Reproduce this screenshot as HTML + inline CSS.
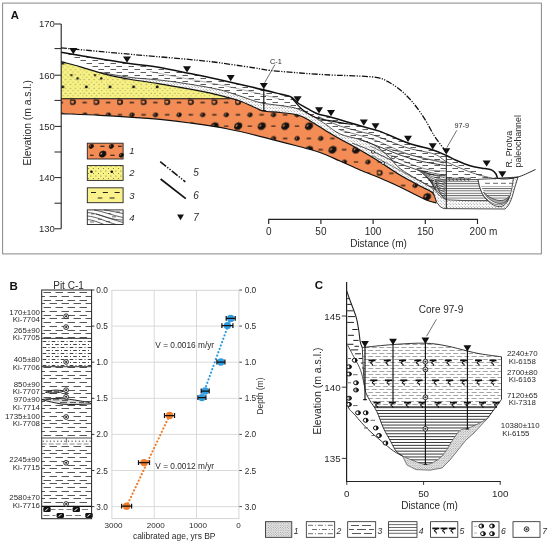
<!DOCTYPE html>
<html><head><meta charset="utf-8"><title>Figure</title>
<style>
html,body{margin:0;padding:0;background:#fff}
svg{display:block}
text{font-family:"Liberation Sans",sans-serif;fill:#2a2a2a}
.b{font-weight:bold;fill:#111}
.i{font-style:italic}
</style></head><body>
<svg width="550" height="544" viewBox="0 0 550 544">
<defs>
<pattern id="dash" width="12" height="6" patternUnits="userSpaceOnUse" patternTransform="translate(62,50)">
<rect width="12" height="6" fill="#fff"/>
<path d="M0.5,1.5H6 M6.5,4.5H12" stroke="#4a4a4a" stroke-width="0.9"/>
</pattern>
<pattern id="dashB" width="12" height="15" patternUnits="userSpaceOnUse" patternTransform="translate(43,291)">
<rect width="12" height="15" fill="#fff"/>
<path d="M0.5,1.5H8 M6.5,5.5H12 M0,5.5H2 M0.5,9.5H8 M6.5,12.5H12 M0,12.5H2" stroke="#444" stroke-width="0.9"/>
</pattern>
<pattern id="dashW" width="13" height="11.6" patternUnits="userSpaceOnUse" patternTransform="translate(346.6,295.6)">
<rect width="13" height="11.6" fill="#fff"/>
<path d="M1,3H6.6 M7.8,8.8H12.4 M0,8.8H0.4" stroke="#333" stroke-width="0.9"/>
</pattern>
<pattern id="dashC" width="7.4" height="6" patternUnits="userSpaceOnUse" patternTransform="translate(364,346)">
<rect width="7.4" height="6" fill="#fff"/>
<path d="M0.4,1.5H5.4 M4.1,4.5H7.4 M0,4.5H1.7" stroke="#909090" stroke-width="0.8"/>
</pattern>
<pattern id="stip" width="3" height="3" patternUnits="userSpaceOnUse">
<rect width="3" height="3" fill="#fafafa"/>
<circle cx="0.7" cy="0.7" r="0.42" fill="#444"/><circle cx="2.2" cy="2.2" r="0.42" fill="#555"/>
</pattern>
<pattern id="stipf" width="2.4" height="2.4" patternUnits="userSpaceOnUse">
<rect width="2.4" height="2.4" fill="#f0f0f0"/>
<circle cx="0.6" cy="0.6" r="0.45" fill="#5a5a5a"/><circle cx="1.8" cy="1.8" r="0.45" fill="#5a5a5a"/>
</pattern>
<pattern id="hl" width="6" height="2.9" patternUnits="userSpaceOnUse" patternTransform="translate(0,406.2)">
<rect width="6" height="2.9" fill="#fff"/>
<path d="M0,1.45H6" stroke="#2a2a2a" stroke-width="0.95"/>
</pattern>
<pattern id="hlA" width="6" height="2.4" patternUnits="userSpaceOnUse">
<rect width="6" height="2.4" fill="#fff"/>
<path d="M0,1.3H6" stroke="#333" stroke-width="0.8"/>
</pattern>
<pattern id="yelf" width="5" height="5" patternUnits="userSpaceOnUse">
<rect width="5" height="5" fill="#f9f284"/>
<circle cx="0.9" cy="1.1" r="0.5" fill="#554"/><circle cx="3.4" cy="3.6" r="0.5" fill="#554"/>
</pattern>
<pattern id="yel" width="23.6" height="23.6" patternUnits="userSpaceOnUse" patternTransform="translate(59.6,63.5)">
<rect width="23.6" height="23.6" fill="url(#yelf)"/>
<path d="M10.1,10.7h3.4l-1.7,2.6z" fill="#111"/>
<circle cx="18" cy="15" r="1.2" fill="#111"/>
<circle cx="3.2" cy="23.4" r="1.5" fill="#111"/><circle cx="3.2" cy="-0.2" r="1.5" fill="#111"/>
</pattern>
<pattern id="org" width="23.6" height="70.8" patternUnits="userSpaceOnUse" patternTransform="translate(61,90.7)">
<rect width="23.6" height="70.8" fill="#f38d55"/>
<path d="M-2.6,-2.9 H1.2 Q3.2,-2.6 3.1,-0.2 Q2.9,2.5 0.2,2.5 H-1.4 Q-2.7,2.3 -2.7,0.8 Z" fill="#111" transform="translate(11.8,11.6)"/><path d="M-1.7,-1.6 H0.5 Q1.5,-1.3 1.4,-0.1 Q1.2,1.2 -0.1,1.2 H-1 Q-1.7,1 -1.7,0.2Z" fill="#f38d55" transform="translate(11.8,11.6)"/>
<path d="M-3.6,1.6 L-2.6,-2 L0.6,-3.4 L3.6,-2.4 L3.8,0.8 L1.4,3.2 L-2,3.4Z" fill="#111" stroke="#111" stroke-width="0.9" stroke-linejoin="round" transform="translate(11.8,35.4)"/><path d="M-2.5,0.5 L-1.9,-1 L-0.3,-1.7 L-0.4,-0.7 L-1.5,0.7Z" fill="#f38d55" transform="translate(11.8,35.4)"/>
<path d="M-3.6,1.6 L-2.6,-2 L0.6,-3.4 L3.6,-2.4 L3.8,0.8 L1.4,3.2 L-2,3.4Z" fill="#111" stroke="#111" stroke-width="0.9" stroke-linejoin="round" transform="translate(11.8,59)"/><path d="M-2.5,0.5 L-1.9,-1 L-0.3,-1.7 L-0.4,-0.7 L-1.5,0.7Z" fill="#f38d55" transform="translate(11.8,59)"/>
<path d="M-2.4,0.9 L-1.4,-1.5 L1,-2 L2.5,-0.9 L2,1.3 L-0.2,2.1Z" fill="#111" stroke="#111" stroke-width="0.7" stroke-linejoin="round" transform="translate(0,0.5)"/><path d="M-1.5,0.3 L-0.8,-0.8 L0.3,-1 L-0.4,0.4Z" fill="#f38d55" transform="translate(0,0.5)"/>
<path d="M-2.4,0.9 L-1.4,-1.5 L1,-2 L2.5,-0.9 L2,1.3 L-0.2,2.1Z" fill="#111" stroke="#111" stroke-width="0.7" stroke-linejoin="round" transform="translate(23.6,0.5)"/><path d="M-1.5,0.3 L-0.8,-0.8 L0.3,-1 L-0.4,0.4Z" fill="#f38d55" transform="translate(23.6,0.5)"/>
<path d="M-2.4,0.9 L-1.4,-1.5 L1,-2 L2.5,-0.9 L2,1.3 L-0.2,2.1Z" fill="#111" stroke="#111" stroke-width="0.7" stroke-linejoin="round" transform="translate(0,24.1)"/><path d="M-1.5,0.3 L-0.8,-0.8 L0.3,-1 L-0.4,0.4Z" fill="#f38d55" transform="translate(0,24.1)"/>
<path d="M-2.4,0.9 L-1.4,-1.5 L1,-2 L2.5,-0.9 L2,1.3 L-0.2,2.1Z" fill="#111" stroke="#111" stroke-width="0.7" stroke-linejoin="round" transform="translate(23.6,24.1)"/><path d="M-1.5,0.3 L-0.8,-0.8 L0.3,-1 L-0.4,0.4Z" fill="#f38d55" transform="translate(23.6,24.1)"/>
<path d="M-2.4,0.9 L-1.4,-1.5 L1,-2 L2.5,-0.9 L2,1.3 L-0.2,2.1Z" fill="#111" stroke="#111" stroke-width="0.7" stroke-linejoin="round" transform="translate(0,47.7)"/><path d="M-1.5,0.3 L-0.8,-0.8 L0.3,-1 L-0.4,0.4Z" fill="#f38d55" transform="translate(0,47.7)"/>
<path d="M-2.4,0.9 L-1.4,-1.5 L1,-2 L2.5,-0.9 L2,1.3 L-0.2,2.1Z" fill="#111" stroke="#111" stroke-width="0.7" stroke-linejoin="round" transform="translate(23.6,47.7)"/><path d="M-1.5,0.3 L-0.8,-0.8 L0.3,-1 L-0.4,0.4Z" fill="#f38d55" transform="translate(23.6,47.7)"/>
<path d="M-2.4,0.9 L-1.4,-1.5 L1,-2 L2.5,-0.9 L2,1.3 L-0.2,2.1Z" fill="#111" stroke="#111" stroke-width="0.7" stroke-linejoin="round" transform="translate(0,71.3)"/><path d="M-1.5,0.3 L-0.8,-0.8 L0.3,-1 L-0.4,0.4Z" fill="#f38d55" transform="translate(0,71.3)"/>
<path d="M-2.4,0.9 L-1.4,-1.5 L1,-2 L2.5,-0.9 L2,1.3 L-0.2,2.1Z" fill="#111" stroke="#111" stroke-width="0.7" stroke-linejoin="round" transform="translate(23.6,71.3)"/><path d="M-1.5,0.3 L-0.8,-0.8 L0.3,-1 L-0.4,0.4Z" fill="#f38d55" transform="translate(23.6,71.3)"/>
<path d="M-2.2,11.8H2.2 M21.400000000000002,11.8H25.8 M-2.2,35.4H2.2 M21.400000000000002,35.4H25.8 M-2.2,59H2.2 M21.400000000000002,59H25.8 M9.6,0.5H14 M9.6,24.1H14 M9.6,47.7H14" stroke="#111" stroke-width="1.1"/>
</pattern>
</defs>
<rect width="550" height="544" fill="#fff"/>

<g id="panelA">
<rect x="2.6" y="3.1" width="538.8" height="250.8" fill="none" stroke="#888" stroke-width="1"/>
<text x="10.7" y="18.7" font-size="11.3" class="b">A</text>
<path d="M61.0,52.3 C64.2,52.8 69.2,53.7 80.0,55.5 C90.8,57.3 113.2,61.1 126.0,63.0 C138.8,64.9 146.3,65.2 157.0,67.0 C167.7,68.8 180.1,71.5 190.0,73.5 C199.9,75.5 206.0,76.7 216.4,79.0 C226.8,81.3 242.1,84.8 252.7,87.3 C263.3,89.8 273.6,92.4 280.0,94.0 C286.4,95.6 288.0,95.3 291.0,96.8 C294.0,98.3 294.9,100.8 298.0,103.0 C301.1,105.2 306.3,108.0 309.6,109.8 C312.9,111.6 314.1,112.7 318.0,114.0 C321.9,115.3 325.1,115.6 332.7,117.7 C340.3,119.8 355.7,124.5 363.6,126.8 C371.5,129.1 372.6,128.7 380.0,131.4 C387.4,134.1 399.2,139.9 408.0,143.0 C416.8,146.1 426.6,147.9 433.0,150.0 C439.4,152.1 442.7,153.8 446.5,155.5 C450.3,157.2 451.9,158.6 456.0,160.3 C460.1,162.1 468.5,165.1 471.0,166.0 L485,175 L445.5,180 L434,189 L434.0,189.0 C431.7,187.7 425.7,184.4 420.0,181.0 C414.3,177.6 405.3,172.7 400.0,168.5 C394.7,164.3 392.2,159.8 388.0,156.0 C383.8,152.2 379.7,148.2 375.0,145.5 C370.3,142.8 365.8,141.4 360.0,139.5 C354.2,137.6 345.7,136.5 340.0,134.0 C334.3,131.5 329.9,127.1 326.0,124.5 C322.1,121.9 319.7,120.3 316.4,118.3 C313.1,116.3 309.6,114.2 306.0,112.5 C302.4,110.8 299.3,109.2 295.0,108.0 C290.7,106.8 285.8,106.4 280.0,105.5 C274.2,104.6 266.7,104.2 260.0,102.6 C253.3,101.0 247.3,98.3 240.0,96.0 C232.7,93.7 226.4,91.2 216.4,89.0 C206.4,86.8 189.9,84.2 180.0,82.7 C170.1,81.2 165.2,80.7 157.0,79.8 C148.8,78.9 140.5,78.7 131.0,77.5 C121.5,76.3 105.2,73.2 100.0,72.4Z" fill="url(#dash)"/>
<path d="M100.0,72.4 C105.2,73.2 121.5,76.3 131.0,77.5 C140.5,78.7 148.8,78.9 157.0,79.8 C165.2,80.7 170.1,81.2 180.0,82.7 C189.9,84.2 206.4,86.8 216.4,89.0 C226.4,91.2 232.7,93.7 240.0,96.0 C247.3,98.3 253.3,101.0 260.0,102.6 C266.7,104.2 274.2,104.6 280.0,105.5 C285.8,106.4 290.7,106.8 295.0,108.0 C299.3,109.2 302.4,110.8 306.0,112.5 C309.6,114.2 313.1,116.3 316.4,118.3 C319.7,120.3 322.1,121.9 326.0,124.5 C329.9,127.1 334.3,131.5 340.0,134.0 C345.7,136.5 354.2,137.6 360.0,139.5 C365.8,141.4 370.3,142.8 375.0,145.5 C379.7,148.2 383.8,152.2 388.0,156.0 C392.2,159.8 394.7,164.3 400.0,168.5 C405.3,172.7 414.3,177.6 420.0,181.0 C425.7,184.4 431.7,187.7 434.0,189.0 L436.5,201.8 C435.9,200.3 435.4,195.4 432.6,192.8 C429.9,190.2 425.4,189.0 420.0,186.0 C414.6,183.0 406.7,179.0 400.0,175.0 C393.3,171.0 386.7,166.2 380.0,162.0 C373.3,157.8 366.7,153.8 360.0,150.0 C353.3,146.2 345.8,142.2 340.0,139.0 C334.2,135.8 330.3,133.4 325.5,130.5 C320.7,127.6 315.6,124.0 311.0,121.4 C306.4,118.8 303.2,116.5 298.0,115.0 C292.8,113.5 285.7,113.2 280.0,112.5 C274.3,111.8 267.6,111.8 263.6,111.0 C259.6,110.2 259.9,109.7 256.0,108.0 C252.1,106.3 244.8,102.8 240.0,101.0 C235.2,99.2 232.5,98.7 227.0,97.3 C221.5,95.9 214.8,94.1 207.0,92.4 C199.2,90.7 188.3,88.8 180.0,87.3 C171.7,85.8 165.2,84.6 157.0,83.3 C148.8,82.0 139.5,81.0 131.0,79.5 C122.5,78.0 114.4,76.5 106.0,74.4 C97.6,72.3 87.9,68.9 80.4,66.8 C72.9,64.7 64.2,62.6 61.0,61.7Z" fill="url(#stip)"/>
<path d="M61.0,61.7 C64.2,62.6 72.9,64.7 80.4,66.8 C87.9,68.9 97.6,72.3 106.0,74.4 C114.4,76.5 122.5,78.0 131.0,79.5 C139.5,81.0 148.8,82.0 157.0,83.3 C165.2,84.6 171.7,85.8 180.0,87.3 C188.3,88.8 199.2,90.7 207.0,92.4 C214.8,94.1 223.7,96.5 227.0,97.3 L230,98.6 L61,98.6 Z" fill="url(#yel)"/>
<path d="M61,98.6 L230,98.6 L240.0,101.0 C242.7,102.2 252.1,106.3 256.0,108.0 C259.9,109.7 259.6,110.2 263.6,111.0 C267.6,111.8 274.3,111.8 280.0,112.5 C285.7,113.2 292.8,113.5 298.0,115.0 C303.2,116.5 306.4,118.8 311.0,121.4 C315.6,124.0 320.7,127.6 325.5,130.5 C330.3,133.4 334.2,135.8 340.0,139.0 C345.8,142.2 353.3,146.2 360.0,150.0 C366.7,153.8 373.3,157.8 380.0,162.0 C386.7,166.2 393.3,171.0 400.0,175.0 C406.7,179.0 414.6,183.0 420.0,186.0 C425.4,189.0 429.9,190.2 432.6,192.8 C435.4,195.4 435.9,200.3 436.5,201.8 L436.5,203.0 C435.0,202.6 430.9,201.8 427.5,200.5 C424.1,199.2 420.6,197.2 416.0,195.0 C411.4,192.8 406.0,189.8 400.0,187.0 C394.0,184.2 386.7,180.8 380.0,178.0 C373.3,175.2 366.7,172.8 360.0,170.0 C353.3,167.2 346.7,163.9 340.0,161.0 C333.3,158.1 325.9,154.7 320.0,152.5 C314.1,150.3 313.5,150.4 304.5,148.0 C295.5,145.6 278.8,141.0 266.0,137.8 C253.2,134.6 240.7,131.5 228.0,129.0 C215.3,126.5 201.3,124.6 190.0,123.0 C178.7,121.4 168.3,120.2 160.0,119.3 C151.7,118.4 150.0,118.5 140.0,117.8 C130.0,117.1 113.2,116.0 100.0,115.3 C86.8,114.6 67.5,113.9 61.0,113.6Z" fill="url(#org)"/>
<path d="M61.0,113.6 C67.5,113.9 86.8,114.6 100.0,115.3 C113.2,116.0 130.0,117.1 140.0,117.8 C150.0,118.5 151.7,118.4 160.0,119.3 C168.3,120.2 178.7,121.4 190.0,123.0 C201.3,124.6 215.3,126.5 228.0,129.0 C240.7,131.5 253.2,134.6 266.0,137.8 C278.8,141.0 295.5,145.6 304.5,148.0 C313.5,150.4 314.1,150.3 320.0,152.5 C325.9,154.7 333.3,158.1 340.0,161.0 C346.7,163.9 353.3,167.2 360.0,170.0 C366.7,172.8 373.3,175.2 380.0,178.0 C386.7,180.8 394.0,184.2 400.0,187.0 C406.0,189.8 411.4,192.8 416.0,195.0 C420.6,197.2 424.1,199.2 427.5,200.5 C430.9,201.8 435.0,202.6 436.5,203.0" fill="none" stroke="#111" stroke-width="1.2"/>
<path d="M61,98.7 H230" fill="none" stroke="#111" stroke-width="1.1"/>
<path d="M61.0,61.7 C64.2,62.6 72.9,64.7 80.4,66.8 C87.9,68.9 97.6,72.3 106.0,74.4 C114.4,76.5 122.5,78.0 131.0,79.5 C139.5,81.0 148.8,82.0 157.0,83.3 C165.2,84.6 171.7,85.8 180.0,87.3 C188.3,88.8 199.2,90.7 207.0,92.4 C214.8,94.1 221.5,95.9 227.0,97.3 C232.5,98.7 235.2,99.2 240.0,101.0 C244.8,102.8 252.1,106.3 256.0,108.0 C259.9,109.7 259.6,110.2 263.6,111.0 C267.6,111.8 274.3,111.8 280.0,112.5 C285.7,113.2 292.8,113.5 298.0,115.0 C303.2,116.5 306.4,118.8 311.0,121.4 C315.6,124.0 320.7,127.6 325.5,130.5 C330.3,133.4 334.2,135.8 340.0,139.0 C345.8,142.2 353.3,146.2 360.0,150.0 C366.7,153.8 373.3,157.8 380.0,162.0 C386.7,166.2 393.3,171.0 400.0,175.0 C406.7,179.0 414.6,183.0 420.0,186.0 C425.4,189.0 429.9,190.2 432.6,192.8 C435.4,195.4 435.9,200.3 436.5,201.8" fill="none" stroke="#111" stroke-width="1.2"/>
<path d="M100.0,72.4 C105.2,73.2 121.5,76.3 131.0,77.5 C140.5,78.7 148.8,78.9 157.0,79.8 C165.2,80.7 170.1,81.2 180.0,82.7 C189.9,84.2 206.4,86.8 216.4,89.0 C226.4,91.2 232.7,93.7 240.0,96.0 C247.3,98.3 253.3,101.0 260.0,102.6 C266.7,104.2 274.2,104.6 280.0,105.5 C285.8,106.4 290.7,106.8 295.0,108.0 C299.3,109.2 302.4,110.8 306.0,112.5 C309.6,114.2 313.1,116.3 316.4,118.3 C319.7,120.3 322.1,121.9 326.0,124.5 C329.9,127.1 334.3,131.5 340.0,134.0 C345.7,136.5 354.2,137.6 360.0,139.5 C365.8,141.4 370.3,142.8 375.0,145.5 C379.7,148.2 383.8,152.2 388.0,156.0 C392.2,159.8 394.7,164.3 400.0,168.5 C405.3,172.7 414.3,177.6 420.0,181.0 C425.7,184.4 431.7,187.7 434.0,189.0" fill="none" stroke="#222" stroke-width="0.8"/>
<path d="M150.0,71.5 C155.0,72.5 169.0,75.4 180.0,77.5 C191.0,79.6 204.3,81.7 216.0,84.0 C227.7,86.3 239.3,89.0 250.0,91.5 C260.7,94.0 275.0,97.8 280.0,99.0" fill="none" stroke="#666" stroke-width="0.5"/>
<path d="M433,191.5 L436.8,202.5 L440.5,207 L444,208.6 L505,209 C509,206 512,199 514,190 L518,177 L497.4,178.4 L478,179 L445,180 L436,186Z" fill="url(#stip)" stroke="#222" stroke-width="0.8"/>
<path d="M445.5,160 L465,167 L479,172.5 L496,177.5 L497.4,178.6 L478,179.6 L445.5,180Z" fill="url(#dash)"/>
<path d="M435.5,180 L478,179.5 C479,186 481.5,193 485,198 L488,200.8 L465,200.6 L447,199.8 C442,198 438,191 435.5,180Z" fill="url(#hlA)" stroke="#222" stroke-width="0.7"/>
<path d="M478,179.3 C479.5,188 482,195 487,200 C491,204 495,206.6 499.5,206.6 C504,206.6 507.5,203 509.5,197 C511.5,191 512.6,184 513.4,177.6 L497.4,178.5Z" fill="#fff" stroke="#222" stroke-width="0.8"/>
<path d="M481,186 H511.6 C511,190 510,194 508.4,197.6 C506,202.6 501,203.6 496,201.8 C490.5,199.8 484.5,195 481,186Z" fill="url(#hlA)"/>
<path d="M483.5,192 C486,197 490.5,200.8 496,202.8 C501.5,204.8 506.5,203 509.4,196 C506.5,200 501.5,201.4 496,199.8 C490.5,198.2 486.5,195.6 483.5,192Z" fill="#aaa" stroke="#222" stroke-width="0.6"/>
<path d="M485.5,197.5 C489.5,202.6 495.5,205.4 500.5,204.8 C504,204.4 507,202 508.8,198" fill="none" stroke="#222" stroke-width="0.6"/>
<path d="M485,183.3h5 m3,0h5 m3,0h5 m3,0h3" stroke="#444" stroke-width="0.8"/>
<path d="M417.0,169.5 Q432.0,173.0 445.5,175.6" stroke="#222" stroke-width="0.65" fill="none"/>
<path d="M418.5,170.7 Q432.3,175.2 445.5,178.0" stroke="#222" stroke-width="0.65" fill="none"/>
<path d="M420.0,171.8 Q432.6,177.4 445.5,180.4" stroke="#222" stroke-width="0.65" fill="none"/>
<path d="M421.5,172.9 Q432.9,179.6 445.5,182.8" stroke="#222" stroke-width="0.65" fill="none"/>
<path d="M423.0,174.1 Q433.2,181.8 445.5,185.2" stroke="#222" stroke-width="0.65" fill="none"/>
<path d="M424.5,175.2 Q433.5,184.0 445.5,187.6" stroke="#222" stroke-width="0.65" fill="none"/>
<path d="M426.0,176.4 Q433.8,186.2 445.5,190.0" stroke="#222" stroke-width="0.65" fill="none"/>
<path d="M427.5,177.6 Q434.1,188.4 445.5,192.4" stroke="#222" stroke-width="0.65" fill="none"/>
<path d="M429.0,178.7 Q434.4,190.6 445.5,194.8" stroke="#222" stroke-width="0.65" fill="none"/>
<path d="M430.5,179.8 Q434.7,192.8 445.5,197.2" stroke="#222" stroke-width="0.65" fill="none"/>
<path d="M432.0,181.0 Q435.0,195.0 445.5,199.6" stroke="#222" stroke-width="0.65" fill="none"/>
<path d="M318.0,116.5 C321.7,118.1 333.0,123.5 340.0,126.0 C347.0,128.5 354.0,129.8 360.0,131.5 C366.0,133.2 368.0,133.2 376.0,136.0 C384.0,138.8 398.3,145.0 408.0,148.0 C417.7,151.0 427.5,151.7 434.0,154.0 C440.5,156.3 441.8,159.3 447.0,162.0 C452.2,164.7 459.7,167.8 465.0,170.0 C470.3,172.2 473.8,173.5 479.0,175.0 C484.2,176.5 493.2,178.3 496.0,179.0" fill="none" stroke="#222" stroke-width="0.7"/>
<path d="M360.0,139.5 C363.3,140.8 373.3,144.4 380.0,147.0 C386.7,149.6 393.3,152.7 400.0,155.0 C406.7,157.3 412.4,159.2 420.0,161.0 C427.6,162.8 441.2,164.8 445.5,165.5" fill="none" stroke="#222" stroke-width="0.9"/>
<path d="M352.0,143.0 C355.3,144.3 365.3,148.1 372.0,151.0 C378.7,153.9 385.3,157.7 392.0,160.5 C398.7,163.3 405.7,165.8 412.0,168.0 C418.3,170.2 424.4,172.7 430.0,174.0 C435.6,175.3 442.9,175.7 445.5,176.0" fill="none" stroke="#222" stroke-width="0.8"/>
<path d="M372.0,155.5 C375.3,157.2 385.7,162.6 392.0,166.0 C398.3,169.4 404.3,173.0 410.0,176.0 C415.7,179.0 421.7,181.8 426.0,184.0 C430.3,186.2 434.3,188.2 436.0,189.0" fill="none" stroke="#333" stroke-width="0.6"/>
<path d="M340.0,130.0 C343.3,130.9 353.3,133.5 360.0,135.5 C366.7,137.5 373.3,139.4 380.0,142.0 C386.7,144.6 393.3,148.4 400.0,151.0 C406.7,153.6 412.4,155.7 420.0,157.5 C427.6,159.3 441.2,161.2 445.5,162.0" fill="none" stroke="#333" stroke-width="0.6"/>
<path d="M370.0,146.0 C373.7,147.7 385.0,152.9 392.0,156.0 C399.0,159.1 405.7,162.2 412.0,164.5 C418.3,166.8 424.4,168.9 430.0,170.0 C435.6,171.1 442.9,170.8 445.5,171.0" fill="none" stroke="#333" stroke-width="0.6"/>
<path d="M385.0,147.7 C389.9,149.1 404.8,153.4 414.6,156.0 C424.4,158.6 439.1,161.8 444.0,163.0" fill="none" stroke="#333" stroke-width="0.6"/>
<ellipse cx="373" cy="152" rx="1.8" ry="1.3" fill="#fff" stroke="#111" stroke-width="0.8"/>
<ellipse cx="393" cy="157.5" rx="1.8" ry="1.3" fill="#fff" stroke="#111" stroke-width="0.8"/>
<ellipse cx="383" cy="163" rx="1.8" ry="1.3" fill="#fff" stroke="#111" stroke-width="0.8"/>
<path d="M291.0,97.3 C292.0,98.4 294.9,101.8 297.0,104.0 C299.1,106.2 300.4,108.2 303.6,110.5 C306.8,112.8 311.2,115.9 316.4,117.7 C321.5,119.5 328.4,120.4 334.5,121.6 C340.6,122.8 349.7,124.1 352.7,124.6" fill="none" stroke="#111" stroke-width="1.2"/>
<path d="M446,178.2h25" stroke="#222" stroke-width="0.7"/>
<path d="M449.5,178.4 q-1.2,0.8 -0.2,1.4 q0.6,0.4 0.2,1" stroke="#111" stroke-width="0.8" fill="none"/>
<path d="M453.3,178.4 q-1.2,0.8 -0.2,1.4 q0.6,0.4 0.2,1" stroke="#111" stroke-width="0.8" fill="none"/>
<path d="M457.1,178.4 q-1.2,0.8 -0.2,1.4 q0.6,0.4 0.2,1" stroke="#111" stroke-width="0.8" fill="none"/>
<path d="M460.9,178.4 q-1.2,0.8 -0.2,1.4 q0.6,0.4 0.2,1" stroke="#111" stroke-width="0.8" fill="none"/>
<path d="M464.7,178.4 q-1.2,0.8 -0.2,1.4 q0.6,0.4 0.2,1" stroke="#111" stroke-width="0.8" fill="none"/>
<path d="M468.5,178.4 q-1.2,0.8 -0.2,1.4 q0.6,0.4 0.2,1" stroke="#111" stroke-width="0.8" fill="none"/>
<path d="M61.0,52.3 C64.2,52.8 69.2,53.7 80.0,55.5 C90.8,57.3 113.2,61.1 126.0,63.0 C138.8,64.9 146.3,65.2 157.0,67.0 C167.7,68.8 180.1,71.5 190.0,73.5 C199.9,75.5 206.0,76.7 216.4,79.0 C226.8,81.3 242.1,84.8 252.7,87.3 C263.3,89.8 273.6,92.4 280.0,94.0 C286.4,95.6 288.0,95.3 291.0,96.8 C294.0,98.3 294.9,100.8 298.0,103.0 C301.1,105.2 306.3,108.0 309.6,109.8 C312.9,111.6 314.1,112.7 318.0,114.0 C321.9,115.3 325.1,115.6 332.7,117.7 C340.3,119.8 355.7,124.5 363.6,126.8 C371.5,129.1 372.6,128.7 380.0,131.4 C387.4,134.1 399.2,139.9 408.0,143.0 C416.8,146.1 426.6,147.9 433.0,150.0 C439.4,152.1 442.7,153.8 446.5,155.5 C450.3,157.2 451.9,158.6 456.0,160.3 C460.1,162.1 466.2,164.6 471.0,166.0 C475.8,167.4 481.5,167.9 485.0,168.6 C488.5,169.3 490.2,169.3 492.0,170.2 C493.8,171.1 495.1,172.6 496.0,174.0 C496.9,175.4 497.2,177.7 497.5,178.4" fill="none" stroke="#111" stroke-width="1.5"/>
<path d="M497.6,178.4 C503,179.6 512,179 518,177 C523,175.5 527,173.5 535.5,169.5" fill="none" stroke="#111" stroke-width="0.9"/>
<path d="M61.0,47.9 C70.0,48.7 92.2,50.8 115.0,52.9 C137.8,55.0 178.8,58.4 198.0,60.3 C217.2,62.2 220.5,63.0 230.0,64.3 C239.5,65.6 248.3,67.0 255.0,68.0 C261.7,69.0 262.5,69.6 270.0,70.4 C277.5,71.2 290.0,72.2 300.0,73.0 C310.0,73.8 321.1,74.5 330.0,75.0 C338.9,75.5 345.7,75.4 353.6,75.8 C361.5,76.2 371.4,76.5 377.3,77.6 C383.2,78.7 385.1,80.0 389.0,82.2 C392.9,84.4 397.1,87.2 401.0,90.5 C404.9,93.8 408.8,97.6 412.7,102.3 C416.6,107.0 421.1,113.3 424.6,118.8 C428.2,124.3 430.9,130.5 434.0,135.4 C437.1,140.3 441.5,145.6 443.5,148.4 C445.5,151.2 445.6,151.8 446.0,152.5" fill="none" stroke="#111" stroke-width="1.3" stroke-dasharray="6 1.4 1.2 1.4 1.2 1.4"/>
<path d="M69.3,48.1 H77.3 L73.3,54.3Z" fill="#111"/>
<path d="M123.0,56.5 H131.0 L127.0,62.7Z" fill="#111"/>
<path d="M183.0,66.3 H191.0 L187.0,72.5Z" fill="#111"/>
<path d="M226.7,75.1 H234.7 L230.7,81.3Z" fill="#111"/>
<path d="M259.8,82.9 H267.8 L263.8,89.1Z" fill="#111"/>
<path d="M293.6,96.3 H301.6 L297.6,102.5Z" fill="#111"/>
<path d="M315.0,107.3 H323.0 L319.0,113.5Z" fill="#111"/>
<path d="M327.0,110.1 H335.0 L331.0,116.3Z" fill="#111"/>
<path d="M359.8,119.6 H367.8 L363.8,125.8Z" fill="#111"/>
<path d="M371.5,123.3 H379.5 L375.5,129.5Z" fill="#111"/>
<path d="M404.0,135.8 H412.0 L408.0,142.0Z" fill="#111"/>
<path d="M428.7,143.3 H436.7 L432.7,149.5Z" fill="#111"/>
<path d="M442.3,148.3 H450.3 L446.3,154.5Z" fill="#111"/>
<path d="M482.6,160.4 H490.6 L486.6,166.6Z" fill="#111"/>
<path d="M498.3,171.2 H506.3 L502.3,177.4Z" fill="#111"/>
<path d="M263.8,88.3 V110.6 M261.8,110.6 h4" stroke="#111" stroke-width="1.15" fill="none"/>
<path d="M446.3,154.5 V208.5" stroke="#111" stroke-width="1" fill="none"/>
<path d="M274.9,64.6 L264.6,82.8 M456.8,130.3 L446.8,147.6" stroke="#333" stroke-width="0.7" fill="none"/>
<text x="276" y="63.8" font-size="7.4" text-anchor="middle" fill="#444">C-1</text>
<text x="461.7" y="128.4" font-size="7.3" text-anchor="middle" fill="#444">97-9</text>
<text transform="translate(512.3,167.5) rotate(-90)" font-size="8.8">R. Protva</text>
<text transform="translate(520.8,167.5) rotate(-90)" font-size="8.8">paleochannel</text>
<path d="M61.2,24 V228.8" stroke="#222" stroke-width="1.1" fill="none"/>
<path d="M54.5,24H61.2" stroke="#222" stroke-width="1"/>
<text x="54.8" y="27.4" font-size="9.5" text-anchor="end">170</text>
<path d="M54.5,75.2H61.2" stroke="#222" stroke-width="1"/>
<text x="54.8" y="78.60000000000001" font-size="9.5" text-anchor="end">160</text>
<path d="M54.5,126.4H61.2" stroke="#222" stroke-width="1"/>
<text x="54.8" y="129.8" font-size="9.5" text-anchor="end">150</text>
<path d="M54.5,177.6H61.2" stroke="#222" stroke-width="1"/>
<text x="54.8" y="181.0" font-size="9.5" text-anchor="end">140</text>
<path d="M54.5,228.8H61.2" stroke="#222" stroke-width="1"/>
<text x="54.8" y="232.20000000000002" font-size="9.5" text-anchor="end">130</text>
<path d="M54.5,48.6H61.2" stroke="#222" stroke-width="1"/>
<path d="M54.5,100.4H61.2" stroke="#222" stroke-width="1"/>
<path d="M54.5,152H61.2" stroke="#222" stroke-width="1"/>
<path d="M54.5,203.2H61.2" stroke="#222" stroke-width="1"/>
<text transform="translate(31,122.8) rotate(-90)" font-size="10.3" text-anchor="middle">Elevation (m a.s.l.)</text>
<path d="M268.7,224 V219.4 H477.5 V224 M320.9,219.4V224 M373.1,219.4V224 M425.3,219.4V224" stroke="#222" stroke-width="1.15" fill="none"/>
<text x="268.7" y="235" font-size="10" text-anchor="middle">0</text>
<text x="320.9" y="235" font-size="10" text-anchor="middle">50</text>
<text x="373.1" y="235" font-size="10" text-anchor="middle">100</text>
<text x="425.3" y="235" font-size="10" text-anchor="middle">150</text>
<text x="469.6" y="235" font-size="10">200 m</text>
<text x="378.5" y="247.3" font-size="10" text-anchor="middle">Distance (m)</text>
<rect x="87.3" y="143.2" width="35.8" height="15.8" fill="#f38d55" stroke="#222" stroke-width="0.9"/>
<g transform="translate(91.2,146.3) scale(0.62)"><path d="M-3.6,1.6 L-2.6,-2 L0.6,-3.4 L3.6,-2.4 L3.8,0.8 L1.4,3.2 L-2,3.4Z" fill="#111" stroke="#111" stroke-width="0.9" stroke-linejoin="round"/><path d="M-2.5,0.5 L-1.9,-1 L-0.3,-1.7 L-0.4,-0.7 L-1.5,0.7Z" fill="#f38d55"/></g>
<g transform="translate(111.3,146.3) scale(0.62)"><path d="M-3.6,1.6 L-2.6,-2 L0.6,-3.4 L3.6,-2.4 L3.8,0.8 L1.4,3.2 L-2,3.4Z" fill="#111" stroke="#111" stroke-width="0.9" stroke-linejoin="round"/><path d="M-2.5,0.5 L-1.9,-1 L-0.3,-1.7 L-0.4,-0.7 L-1.5,0.7Z" fill="#f38d55"/></g>
<g transform="translate(102.5,154) scale(0.9)"><path d="M-3.6,1.6 L-2.6,-2 L0.6,-3.4 L3.6,-2.4 L3.8,0.8 L1.4,3.2 L-2,3.4Z" fill="#111" stroke="#111" stroke-width="0.9" stroke-linejoin="round"/><path d="M-2.5,0.5 L-1.9,-1 L-0.3,-1.7 L-0.4,-0.7 L-1.5,0.7Z" fill="#f38d55"/></g>
<g transform="translate(121.2,155.2) scale(0.6)"><path d="M-3.6,1.6 L-2.6,-2 L0.6,-3.4 L3.6,-2.4 L3.8,0.8 L1.4,3.2 L-2,3.4Z" fill="#111" stroke="#111" stroke-width="0.9" stroke-linejoin="round"/><path d="M-2.5,0.5 L-1.9,-1 L-0.3,-1.7 L-0.4,-0.7 L-1.5,0.7Z" fill="#f38d55"/></g>
<path d="M100.3,146.3h4.2 M118,146.3h3.8 M90,155.2h3.6 M110.4,155.2h4.2" stroke="#111" stroke-width="1.1"/>
<rect x="87.3" y="165.6" width="35.8" height="14.8" fill="url(#yelf)" stroke="#222" stroke-width="0.9"/>
<circle cx="91.5" cy="171.7" r="1.3" fill="#111"/><circle cx="111.8" cy="171.7" r="1.3" fill="#111"/>
<rect x="87.3" y="187.8" width="35.8" height="14.9" fill="#f9f28c" stroke="#222" stroke-width="0.9"/>
<path d="M91,192.5h5 M102.8,192.5h5.1 M114.6,192.5h5.1 M97.7,198h4.6 M109.6,198h5" stroke="#222" stroke-width="1"/>
<rect x="87.3" y="209.9" width="35.8" height="14.6" fill="#fbfbfb" stroke="#222" stroke-width="0.9"/>
<path d="M87.3,212.5 C96,213 104,217 123,222.5 M87.3,216 C96,216.5 107,222 116,224.5 M94,209.9 C103,211.5 113,215.5 123,217.5 M87.3,219.5 C93,220 99,222.5 104,224.5 M104,209.9 C111,211 118,212.5 123,213.5 M96,214 C104,216 112,220 123,220" fill="none" stroke="#222" stroke-width="0.7"/>
<path d="M90,222h4 M98,219.3h4 M106,221.6h4 M112,216.8h4 M116,212h4 M91,213.9h3 M108,213.6h3" stroke="#333" stroke-width="0.7"/>
<text x="129.3" y="153.6" font-size="9.5" class="i">1</text>
<text x="129.3" y="176" font-size="9.5" class="i">2</text>
<text x="129.3" y="198.8" font-size="9.5" class="i">3</text>
<text x="129.3" y="221.3" font-size="9.5" class="i">4</text>
<path d="M160.2,161.6 L185.3,181.8" stroke="#111" stroke-width="1.5" stroke-dasharray="7.5 1.5 1.4 1.5 1.4 1.5"/>
<path d="M160.6,179 L185.8,198.6" stroke="#111" stroke-width="1.7"/>
<path d="M177.1,214.6 H183.9 L180.5,220.2Z" fill="#111"/>
<text x="193.3" y="176" font-size="10" class="i">5</text>
<text x="193.3" y="198.8" font-size="10" class="i">6</text>
<text x="193.3" y="221.2" font-size="10" class="i">7</text>
</g>
<g id="panelB">
<text x="9.5" y="289.5" font-size="11.5" class="b">B</text>
<text x="68.5" y="289" font-size="10" text-anchor="middle">Pit C-1</text>
<rect x="41.7" y="290" width="49.89999999999999" height="228.70000000000005" fill="url(#dashB)"/>
<rect x="41.7" y="338.4" width="49.89999999999999" height="28.3" fill="#fff"/>
<path d="M42.7,341.5H91.1" stroke="#2a2a2a" stroke-width="0.9" stroke-dasharray="3.6 2.2 1 2.2"/>
<path d="M46.2,344.5H91.1" stroke="#2a2a2a" stroke-width="0.9" stroke-dasharray="3.6 2.2 1 2.2"/>
<path d="M42.7,347.5H91.1" stroke="#2a2a2a" stroke-width="0.9" stroke-dasharray="3.6 2.2 1 2.2"/>
<path d="M46.2,350.5H91.1" stroke="#2a2a2a" stroke-width="0.9" stroke-dasharray="3.6 2.2 1 2.2"/>
<path d="M42.7,353.5H91.1" stroke="#2a2a2a" stroke-width="0.9" stroke-dasharray="3.6 2.2 1 2.2"/>
<path d="M46.2,356.5H91.1" stroke="#2a2a2a" stroke-width="0.9" stroke-dasharray="3.6 2.2 1 2.2"/>
<path d="M42.7,359.5H91.1" stroke="#2a2a2a" stroke-width="0.9" stroke-dasharray="3.6 2.2 1 2.2"/>
<path d="M46.2,362.5H91.1" stroke="#2a2a2a" stroke-width="0.9" stroke-dasharray="3.6 2.2 1 2.2"/>
<path d="M42.7,365.5H91.1" stroke="#2a2a2a" stroke-width="0.9" stroke-dasharray="3.6 2.2 1 2.2"/>
<path d="M41.7,338.4H91.6 M41.7,366.7H91.6" stroke="#222" stroke-width="0.9"/>
<rect x="41.7" y="438" width="49.89999999999999" height="6" fill="#fff"/>
<path d="M41.7,438H91.6" stroke="#222" stroke-width="0.8"/>
<path d="M42.7,441.2H91.6" stroke="#333" stroke-width="1" stroke-dasharray="1.2 2.4"/><path d="M66.4,438v4.5" stroke="#333" stroke-width="0.7"/>
<path d="M41.7,444H91.6" stroke="#555" stroke-width="0.7" stroke-dasharray="5 2"/>
<path d="M45.5,392.3 C50,389.6 60,389.6 63.5,391.2 C60,393 50,393.4 45.5,392.3Z" fill="#ddd" stroke="#111" stroke-width="0.9"/><path d="M48,391.6h4 m2,-0.3h5" stroke="#111" stroke-width="0.7"/>
<path d="M42,399.6 C52,397.6 68,398.6 78,400.6 C84,401.6 89,402 91.4,403.8 C82,404.6 70,404.8 62,404.2 C55,402.8 48,401.6 42,399.6Z" fill="#ddd" stroke="#111" stroke-width="0.9"/><path d="M46,399.6h5 m2,0.2h6 m3,0.8h6 m-8,2h7 m3,0h6 m3,0h5" stroke="#111" stroke-width="0.7"/>
<rect x="41.7" y="506.3" width="49.89999999999999" height="12.4" fill="#fff"/>
<path d="M41.7,506.3H91.6" stroke="#111" stroke-width="1.2"/>
<rect x="43.3" y="507.1" width="7.4" height="5" rx="1.3" fill="#111"/><path d="M44.6,510.7 L47.8,508.2 L48.7,508.2 L46.0,510.7Z" fill="#fff"/>
<rect x="72.6" y="507.1" width="7.4" height="5" rx="1.3" fill="#111"/><path d="M73.9,510.7 L77.1,508.2 L78.0,508.2 L75.3,510.7Z" fill="#fff"/>
<rect x="56.6" y="512.9" width="7.4" height="5" rx="1.3" fill="#111"/><path d="M57.9,516.5 L61.1,514.0 L62.0,514.0 L59.3,516.5Z" fill="#fff"/>
<rect x="85.3" y="512.9" width="7.4" height="5" rx="1.3" fill="#111"/><path d="M86.6,516.5 L89.8,514.0 L90.7,514.0 L88.0,516.5Z" fill="#fff"/>
<path d="M50.5,509.5h5 m3,0h5 m3,0h5 M82,509.5h6 M43.5,515.5h6 m3,0h3 M66,515.5h6 m3,0h6" stroke="#555" stroke-width="0.8"/>
<rect x="41.7" y="290" width="49.89999999999999" height="228.70000000000005" fill="none" stroke="#222" stroke-width="1"/>
<circle cx="66.1" cy="316.3" r="2.4" fill="#e8e8e8" stroke="#222" stroke-width="0.9"/><circle cx="66.1" cy="316.3" r="1" fill="#222"/>
<circle cx="66.1" cy="327.1" r="2.4" fill="#e8e8e8" stroke="#222" stroke-width="0.9"/><circle cx="66.1" cy="327.1" r="1" fill="#222"/>
<circle cx="66.1" cy="361.9" r="2.4" fill="#e8e8e8" stroke="#222" stroke-width="0.9"/><circle cx="66.1" cy="361.9" r="1" fill="#222"/>
<circle cx="66.1" cy="390.2" r="2.4" fill="#e8e8e8" stroke="#222" stroke-width="0.9"/><circle cx="66.1" cy="390.2" r="1" fill="#222"/>
<circle cx="66.1" cy="396.8" r="2.4" fill="#e8e8e8" stroke="#222" stroke-width="0.9"/><circle cx="66.1" cy="396.8" r="1" fill="#222"/>
<circle cx="66.1" cy="417" r="2.4" fill="#e8e8e8" stroke="#222" stroke-width="0.9"/><circle cx="66.1" cy="417" r="1" fill="#222"/>
<circle cx="66.1" cy="462.8" r="2.4" fill="#e8e8e8" stroke="#222" stroke-width="0.9"/><circle cx="66.1" cy="462.8" r="1" fill="#222"/>
<circle cx="66.1" cy="504" r="2.4" fill="#e8e8e8" stroke="#222" stroke-width="0.9"/><circle cx="66.1" cy="504" r="1" fill="#222"/>
<path d="M91.6,290h2.8" stroke="#222" stroke-width="0.9"/>
<text x="96.3" y="293" font-size="8.3">0.0</text>
<path d="M91.6,326.1h2.8" stroke="#222" stroke-width="0.9"/>
<text x="96.3" y="329.1" font-size="8.3">0.5</text>
<path d="M91.6,362.2h2.8" stroke="#222" stroke-width="0.9"/>
<text x="96.3" y="365.2" font-size="8.3">1.0</text>
<path d="M91.6,398.3h2.8" stroke="#222" stroke-width="0.9"/>
<text x="96.3" y="401.3" font-size="8.3">1.5</text>
<path d="M91.6,434.4h2.8" stroke="#222" stroke-width="0.9"/>
<text x="96.3" y="437.4" font-size="8.3">2.0</text>
<path d="M91.6,470.5h2.8" stroke="#222" stroke-width="0.9"/>
<text x="96.3" y="473.5" font-size="8.3">2.5</text>
<path d="M91.6,506.6h2.8" stroke="#222" stroke-width="0.9"/>
<text x="96.3" y="509.6" font-size="8.3">3.0</text>
<text x="40" y="314.5" font-size="7.9" text-anchor="end">170±100</text>
<text x="40" y="321.8" font-size="7.9" text-anchor="end">Ki-7704</text>
<text x="40" y="332.5" font-size="7.9" text-anchor="end">265±90</text>
<text x="40" y="339.8" font-size="7.9" text-anchor="end">Ki-7705</text>
<text x="40" y="362.2" font-size="7.9" text-anchor="end">405±80</text>
<text x="40" y="369.5" font-size="7.9" text-anchor="end">Ki-7706</text>
<text x="40" y="387" font-size="7.9" text-anchor="end">850±90</text>
<text x="40" y="394.4" font-size="7.9" text-anchor="end">Ki-7707</text>
<text x="40" y="402.3" font-size="7.9" text-anchor="end">970±90</text>
<text x="40" y="409.8" font-size="7.9" text-anchor="end">Ki-7714</text>
<text x="40" y="418.5" font-size="7.9" text-anchor="end">1735±100</text>
<text x="40" y="426.2" font-size="7.9" text-anchor="end">Ki-7708</text>
<text x="40" y="461.8" font-size="7.9" text-anchor="end">2245±90</text>
<text x="40" y="469.5" font-size="7.9" text-anchor="end">Ki-7715</text>
<text x="40" y="500.4" font-size="7.9" text-anchor="end">2580±70</text>
<text x="40" y="507.8" font-size="7.9" text-anchor="end">Ki-7716</text>
<rect x="111.9" y="290.3" width="127" height="228.3" fill="#fff" stroke="#d0d0d0" stroke-width="0.9"/>
<path d="M154.2,290.3V518.6" stroke="#d6d6d6" stroke-width="0.9"/>
<path d="M196.5,290.3V518.6" stroke="#d6d6d6" stroke-width="0.9"/>
<path d="M111.9,326.1H238.9" stroke="#d6d6d6" stroke-width="0.9"/>
<path d="M111.9,362.2H238.9" stroke="#d6d6d6" stroke-width="0.9"/>
<path d="M111.9,398.3H238.9" stroke="#d6d6d6" stroke-width="0.9"/>
<path d="M111.9,434.4H238.9" stroke="#d6d6d6" stroke-width="0.9"/>
<path d="M111.9,470.5H238.9" stroke="#d6d6d6" stroke-width="0.9"/>
<path d="M111.9,506.6H238.9" stroke="#d6d6d6" stroke-width="0.9"/>
<path d="M239.3,290h2.6" stroke="#333" stroke-width="0.9"/>
<text x="244.7" y="293" font-size="8.3">0.0</text>
<path d="M239.3,326.1h2.6" stroke="#333" stroke-width="0.9"/>
<text x="244.7" y="329.1" font-size="8.3">0.5</text>
<path d="M239.3,362.2h2.6" stroke="#333" stroke-width="0.9"/>
<text x="244.7" y="365.2" font-size="8.3">1.0</text>
<path d="M239.3,398.3h2.6" stroke="#333" stroke-width="0.9"/>
<text x="244.7" y="401.3" font-size="8.3">1.5</text>
<path d="M239.3,434.4h2.6" stroke="#333" stroke-width="0.9"/>
<text x="244.7" y="437.4" font-size="8.3">2.0</text>
<path d="M239.3,470.5h2.6" stroke="#333" stroke-width="0.9"/>
<text x="244.7" y="473.5" font-size="8.3">2.5</text>
<path d="M239.3,506.6h2.6" stroke="#333" stroke-width="0.9"/>
<text x="244.7" y="509.6" font-size="8.3">3.0</text>
<text x="113.5" y="527.8" font-size="8.1" text-anchor="middle">3000</text>
<text x="155.79999999999998" y="527.8" font-size="8.1" text-anchor="middle">2000</text>
<text x="198.1" y="527.8" font-size="8.1" text-anchor="middle">1000</text>
<text x="238.5" y="527.8" font-size="8.1" text-anchor="middle">0</text>
<text x="174.2" y="538.8" font-size="8.45" text-anchor="middle">calibrated age, yrs BP</text>
<text transform="translate(263,396) rotate(-90)" font-size="8.3" text-anchor="middle">Depth (m)</text>
<text x="155.3" y="347.5" font-size="8.3">V = 0.0016 m/yr</text>
<text x="155.3" y="469" font-size="8.3">V = 0.0012 m/yr</text>
<path d="M230.7,318.4 L201.9,397.6" stroke="#2f9be0" stroke-width="2.2" stroke-dasharray="0.1 3.5" stroke-linecap="round"/>
<path d="M169.5,415.5 L126.6,506.2" stroke="#f27c2a" stroke-width="2.2" stroke-dasharray="0.1 3.5" stroke-linecap="round"/>
<circle cx="230.7" cy="318.4" r="3.7" fill="#2f9be0"/>
<path d="M226.2,318.4H235.2 M226.2,316.0v4.8 M235.2,316.0v4.8" stroke="#111" stroke-width="1.25" fill="none"/>
<circle cx="227.4" cy="325.6" r="3.7" fill="#2f9be0"/>
<path d="M221.9,325.6H232.9 M221.9,323.20000000000005v4.8 M232.9,323.20000000000005v4.8" stroke="#111" stroke-width="1.25" fill="none"/>
<circle cx="220.9" cy="362" r="3.7" fill="#2f9be0"/>
<path d="M216.9,362H224.9 M216.9,359.6v4.8 M224.9,359.6v4.8" stroke="#111" stroke-width="1.25" fill="none"/>
<circle cx="205.2" cy="391" r="3.7" fill="#2f9be0"/>
<path d="M201.2,391H209.2 M201.2,388.6v4.8 M209.2,388.6v4.8" stroke="#111" stroke-width="1.25" fill="none"/>
<circle cx="201.9" cy="397.6" r="3.7" fill="#2f9be0"/>
<path d="M197.9,397.6H205.9 M197.9,395.20000000000005v4.8 M205.9,395.20000000000005v4.8" stroke="#111" stroke-width="1.25" fill="none"/>
<circle cx="169.5" cy="415.5" r="3.7" fill="#f27c2a"/>
<path d="M164.5,415.5H174.5 M164.5,413.1v4.8 M174.5,413.1v4.8" stroke="#111" stroke-width="1.25" fill="none"/>
<circle cx="144" cy="462.6" r="3.7" fill="#f27c2a"/>
<path d="M138.5,462.6H149.5 M138.5,460.20000000000005v4.8 M149.5,460.20000000000005v4.8" stroke="#111" stroke-width="1.25" fill="none"/>
<circle cx="126.6" cy="506.2" r="3.7" fill="#f27c2a"/>
<path d="M121.6,506.2H131.6 M121.6,503.8v4.8 M131.6,503.8v4.8" stroke="#111" stroke-width="1.25" fill="none"/>
</g>
<g id="panelC">
<text x="314.8" y="289" font-size="11.5" class="b">C</text>
<path d="M346.6,290.6 C347.3,292.7 349.4,298.6 351.0,303.0 C352.6,307.4 354.9,312.8 356.2,317.3 C357.5,321.8 358.0,325.9 358.7,330.0 C359.4,334.1 359.6,338.8 360.2,341.7 C360.8,344.6 361.9,346.5 362.3,347.5 L363.5,371.8 L364.3,385 L364.3,385.0 C363.7,382.6 362.2,374.7 360.6,370.3 C359.0,365.9 357.1,363.1 354.7,358.5 C352.3,353.9 347.9,345.6 346.5,343.0 Z" fill="#fff"/>
<path d="M347.2,298.6H349.8 M347.2,304.4H351.7 M347.2,310.8H353.4 M347.8,316.6H355 M347.2,322.4H354 M352.3,329.5H357.7 M347.8,335.3H354 M353.3,340.4H358.6 M347.8,344.3H353.4 M354.5,346.3H359 M351,349.9H358.2 M355,353.8H361 M358.6,358.5H362.6 M360.8,363H363 M362,368H363.6" stroke="#222" stroke-width="1" fill="none"/>
<path d="M346.5,343.0 C347.9,345.6 352.3,353.9 354.7,358.5 C357.1,363.1 359.0,365.9 360.6,370.3 C362.2,374.7 363.7,382.6 364.3,385.0 L365.0,389.4 C365.7,391.1 367.4,396.0 369.4,399.7 C371.4,403.4 374.5,406.8 376.8,411.5 C379.1,416.2 381.0,422.9 383.4,428.0 C385.8,433.1 388.9,438.2 391.0,442.0 C393.1,445.8 394.1,448.7 396.0,451.0 C397.9,453.3 401.4,455.2 402.5,456.0 L402.5,456.0 C401.0,455.2 397.2,453.5 393.6,451.0 C390.0,448.5 385.3,444.4 381.0,440.8 C376.7,437.2 372.3,433.6 368.0,429.4 C363.7,425.2 358.8,419.7 355.4,415.4 C351.9,411.1 348.7,410.9 347.3,403.7 C345.9,396.5 347.1,382.1 347.0,372.0 C346.9,361.9 346.6,347.8 346.5,343.0 Z" fill="#fff"/>
<path d="M362.3,347.5 C367.5,347.0 383.1,345.2 393.6,344.5 C404.1,343.8 416.5,342.9 425.4,343.2 C434.3,343.4 440.0,344.7 447.0,346.0 C454.0,347.3 461.9,349.7 467.4,351.0 C472.9,352.3 474.3,352.8 480.0,353.8 C485.7,354.8 497.9,356.3 501.5,356.8 L501.5,399.4 L496.5,406.5 L373.6,406.5 L369.4,399.7 C368.7,398.0 366.0,394.0 365.0,389.4 C364.0,384.8 363.9,378.8 363.5,371.8 C363.1,364.8 362.5,351.6 362.3,347.5 Z" fill="url(#dashC)"/>
<path d="M373.6,406.5 L496.5,406.5 L487.4,418.5 L487.4,418.5 C485.7,419.5 480.4,422.7 477.0,424.4 C473.6,426.1 469.7,427.5 466.8,428.5 C463.9,429.5 462.3,428.5 459.8,430.6 C457.3,432.7 454.1,437.9 452.0,441.0 C449.9,444.1 448.8,446.8 447.0,449.5 C445.2,452.2 443.2,454.9 441.0,457.0 C438.8,459.1 436.6,460.8 434.0,462.0 C431.4,463.2 428.9,464.8 425.4,464.5 C421.9,464.2 416.8,461.9 413.0,460.5 C409.2,459.1 404.2,456.8 402.5,456.0 L402.5,456.0 C401.4,455.2 397.9,453.3 396.0,451.0 C394.1,448.7 393.1,445.8 391.0,442.0 C388.9,438.2 385.8,433.1 383.4,428.0 C381.0,422.9 377.9,414.2 376.8,411.5 Z" fill="url(#hl)"/>
<path d="M402.5,456.0 C404.2,456.8 409.2,459.1 413.0,460.5 C416.8,461.9 421.9,464.2 425.4,464.5 C428.9,464.8 431.4,463.2 434.0,462.0 C436.6,460.8 438.8,459.1 441.0,457.0 C443.2,454.9 445.2,452.2 447.0,449.5 C448.8,446.8 449.9,444.1 452.0,441.0 C454.1,437.9 457.3,432.7 459.8,430.6 C462.3,428.5 463.9,429.5 466.8,428.5 C469.7,427.5 473.6,426.1 477.0,424.4 C480.4,422.7 485.7,419.5 487.4,418.5 L487.4,418.5 L474,433 L466,440 L458,450 L450,460 L442,468 L430,470.2 L416,469.6 L407,465 L402.5,456 Z" fill="url(#stipf)" stroke="#333" stroke-width="0.6"/>
<path d="M346.6,290.6 C347.3,292.7 349.4,298.6 351.0,303.0 C352.6,307.4 354.9,312.8 356.2,317.3 C357.5,321.8 358.0,325.9 358.7,330.0 C359.4,334.1 359.6,338.8 360.2,341.7 C360.8,344.6 361.9,346.5 362.3,347.5" fill="none" stroke="#222" stroke-width="1.1"/>
<path d="M346.5,343.0 C347.9,345.6 352.3,353.9 354.7,358.5 C357.1,363.1 359.0,365.9 360.6,370.3 C362.2,374.7 363.7,382.6 364.3,385.0" fill="none" stroke="#222" stroke-width="0.8"/>
<path d="M362.3,347.5 C362.5,351.6 363.1,364.8 363.5,371.8 C363.9,378.8 364.0,384.8 365.0,389.4 C366.0,394.0 367.4,396.0 369.4,399.7 C371.4,403.4 374.5,406.8 376.8,411.5 C379.1,416.2 381.0,422.9 383.4,428.0 C385.8,433.1 388.9,438.2 391.0,442.0 C393.1,445.8 394.1,448.7 396.0,451.0 C397.9,453.3 401.4,455.2 402.5,456.0" fill="none" stroke="#222" stroke-width="0.9"/>
<path d="M346.5,343.0 C346.6,347.8 346.9,361.9 347.0,372.0 C347.1,382.1 345.9,396.5 347.3,403.7 C348.7,410.9 351.9,411.1 355.4,415.4 C358.8,419.7 363.7,425.2 368.0,429.4 C372.3,433.6 376.7,437.2 381.0,440.8 C385.3,444.4 390.0,448.5 393.6,451.0 C397.2,453.5 401.0,455.2 402.5,456.0" fill="none" stroke="#222" stroke-width="0.9"/>
<path d="M362.3,347.5 C367.5,347.0 383.1,345.2 393.6,344.5 C404.1,343.8 416.5,342.9 425.4,343.2 C434.3,343.4 440.0,344.7 447.0,346.0 C454.0,347.3 461.9,349.7 467.4,351.0 C472.9,352.3 474.3,352.8 480.0,353.8 C485.7,354.8 497.9,356.3 501.5,356.8 L501.5,399.4 L487.4,418.5" fill="none" stroke="#222" stroke-width="0.9"/>
<path d="M373.6,406.5 H496.5" stroke="#333" stroke-width="0.7"/>
<ellipse cx="354.7" cy="360.3" rx="2.4" ry="2" fill="#fff" stroke="#111" stroke-width="1"/><path d="M355.0,358.3 a2.2,2 0 0 1 0,4Z" fill="#111"/>
<ellipse cx="349" cy="366.8" rx="2.4" ry="2" fill="#fff" stroke="#111" stroke-width="1"/><path d="M349.3,364.8 a2.2,2 0 0 1 0,4Z" fill="#111"/>
<ellipse cx="349" cy="374" rx="2.4" ry="2" fill="#fff" stroke="#111" stroke-width="1"/><path d="M349.3,372 a2.2,2 0 0 1 0,4Z" fill="#111"/>
<ellipse cx="356" cy="382.8" rx="2.4" ry="2" fill="#fff" stroke="#111" stroke-width="1"/><path d="M356.3,380.8 a2.2,2 0 0 1 0,4Z" fill="#111"/>
<ellipse cx="356" cy="390" rx="2.4" ry="2" fill="#fff" stroke="#111" stroke-width="1"/><path d="M356.3,388 a2.2,2 0 0 1 0,4Z" fill="#111"/>
<ellipse cx="349" cy="398.2" rx="2.4" ry="2" fill="#fff" stroke="#111" stroke-width="1"/><path d="M349.3,396.2 a2.2,2 0 0 1 0,4Z" fill="#111"/>
<ellipse cx="349" cy="404.4" rx="2.4" ry="2" fill="#fff" stroke="#111" stroke-width="1"/><path d="M349.3,402.4 a2.2,2 0 0 1 0,4Z" fill="#111"/>
<ellipse cx="358" cy="412.8" rx="2.4" ry="2" fill="#fff" stroke="#111" stroke-width="1"/><path d="M358.3,410.8 a2.2,2 0 0 1 0,4Z" fill="#111"/>
<ellipse cx="365.7" cy="412.8" rx="2.4" ry="2" fill="#fff" stroke="#111" stroke-width="1"/><path d="M366.0,410.8 a2.2,2 0 0 1 0,4Z" fill="#111"/>
<ellipse cx="365.7" cy="420.3" rx="2.4" ry="2" fill="#fff" stroke="#111" stroke-width="1"/><path d="M366.0,418.3 a2.2,2 0 0 1 0,4Z" fill="#111"/>
<ellipse cx="375.8" cy="428" rx="2.4" ry="2" fill="#fff" stroke="#111" stroke-width="1"/><path d="M376.1,426 a2.2,2 0 0 1 0,4Z" fill="#111"/>
<ellipse cx="379" cy="435.5" rx="2.4" ry="2" fill="#fff" stroke="#111" stroke-width="1"/><path d="M379.3,433.5 a2.2,2 0 0 1 0,4Z" fill="#111"/>
<ellipse cx="385.5" cy="443" rx="2.4" ry="2" fill="#fff" stroke="#111" stroke-width="1"/><path d="M385.8,441 a2.2,2 0 0 1 0,4Z" fill="#111"/>
<path d="M348,358.5h3 M353,374.7h4.6 M348,382.8h3 M353,390h4 M348,398h3 M353,405.6h4.6 M370.5,420.3h4.5 M364,428h4 M371.5,435.5h3.5" stroke="#444" stroke-width="0.8"/>
<path d="M368.5,360.4H375.5" stroke="#111" stroke-width="1.7" fill="none"/><path d="M373.6,360.7 q-4,1.4 -2.6,2.6 q1.9,0.7 1.6,2.3" stroke="#111" stroke-width="1.05" fill="none"/>
<path d="M383.8,360.4H390.8" stroke="#111" stroke-width="1.7" fill="none"/><path d="M388.9,360.7 q-4,1.4 -2.6,2.6 q1.9,0.7 1.6,2.3" stroke="#111" stroke-width="1.05" fill="none"/>
<path d="M399.0,360.4H406.0" stroke="#111" stroke-width="1.7" fill="none"/><path d="M404.1,360.7 q-4,1.4 -2.6,2.6 q1.9,0.7 1.6,2.3" stroke="#111" stroke-width="1.05" fill="none"/>
<path d="M414.3,360.4H421.3" stroke="#111" stroke-width="1.7" fill="none"/><path d="M419.4,360.7 q-4,1.4 -2.6,2.6 q1.9,0.7 1.6,2.3" stroke="#111" stroke-width="1.05" fill="none"/>
<path d="M429.5,360.4H436.5" stroke="#111" stroke-width="1.7" fill="none"/><path d="M434.6,360.7 q-4,1.4 -2.6,2.6 q1.9,0.7 1.6,2.3" stroke="#111" stroke-width="1.05" fill="none"/>
<path d="M444.8,360.4H451.8" stroke="#111" stroke-width="1.7" fill="none"/><path d="M449.9,360.7 q-4,1.4 -2.6,2.6 q1.9,0.7 1.6,2.3" stroke="#111" stroke-width="1.05" fill="none"/>
<path d="M460.1,360.4H467.1" stroke="#111" stroke-width="1.7" fill="none"/><path d="M465.2,360.7 q-4,1.4 -2.6,2.6 q1.9,0.7 1.6,2.3" stroke="#111" stroke-width="1.05" fill="none"/>
<path d="M475.0,360.4H482.0" stroke="#111" stroke-width="1.7" fill="none"/><path d="M480.1,360.7 q-4,1.4 -2.6,2.6 q1.9,0.7 1.6,2.3" stroke="#111" stroke-width="1.05" fill="none"/>
<path d="M489.5,360.4H496.5" stroke="#111" stroke-width="1.7" fill="none"/><path d="M494.6,360.7 q-4,1.4 -2.6,2.6 q1.9,0.7 1.6,2.3" stroke="#111" stroke-width="1.05" fill="none"/>
<path d="M370.3,380.3H377.3" stroke="#111" stroke-width="1.7" fill="none"/><path d="M375.4,380.6 q-4,1.4 -2.6,2.6 q1.9,0.7 1.6,2.3" stroke="#111" stroke-width="1.05" fill="none"/>
<path d="M385.0,380.3H392.0" stroke="#111" stroke-width="1.7" fill="none"/><path d="M390.1,380.6 q-4,1.4 -2.6,2.6 q1.9,0.7 1.6,2.3" stroke="#111" stroke-width="1.05" fill="none"/>
<path d="M400.3,380.3H407.3" stroke="#111" stroke-width="1.7" fill="none"/><path d="M405.4,380.6 q-4,1.4 -2.6,2.6 q1.9,0.7 1.6,2.3" stroke="#111" stroke-width="1.05" fill="none"/>
<path d="M415.5,380.3H422.5" stroke="#111" stroke-width="1.7" fill="none"/><path d="M420.6,380.6 q-4,1.4 -2.6,2.6 q1.9,0.7 1.6,2.3" stroke="#111" stroke-width="1.05" fill="none"/>
<path d="M432.1,380.3H439.1" stroke="#111" stroke-width="1.7" fill="none"/><path d="M437.2,380.6 q-4,1.4 -2.6,2.6 q1.9,0.7 1.6,2.3" stroke="#111" stroke-width="1.05" fill="none"/>
<path d="M446.1,380.3H453.1" stroke="#111" stroke-width="1.7" fill="none"/><path d="M451.2,380.6 q-4,1.4 -2.6,2.6 q1.9,0.7 1.6,2.3" stroke="#111" stroke-width="1.05" fill="none"/>
<path d="M460.1,380.3H467.1" stroke="#111" stroke-width="1.7" fill="none"/><path d="M465.2,380.6 q-4,1.4 -2.6,2.6 q1.9,0.7 1.6,2.3" stroke="#111" stroke-width="1.05" fill="none"/>
<path d="M475.0,380.3H482.0" stroke="#111" stroke-width="1.7" fill="none"/><path d="M480.1,380.6 q-4,1.4 -2.6,2.6 q1.9,0.7 1.6,2.3" stroke="#111" stroke-width="1.05" fill="none"/>
<path d="M489.5,380.3H496.5" stroke="#111" stroke-width="1.7" fill="none"/><path d="M494.6,380.6 q-4,1.4 -2.6,2.6 q1.9,0.7 1.6,2.3" stroke="#111" stroke-width="1.05" fill="none"/>
<path d="M373.5,402.6H380.5" stroke="#111" stroke-width="1.7" fill="none"/><path d="M378.6,402.90000000000003 q-4,1.4 -2.6,2.6 q1.9,0.7 1.6,2.3" stroke="#111" stroke-width="1.05" fill="none"/>
<path d="M388.8,402.6H395.8" stroke="#111" stroke-width="1.7" fill="none"/><path d="M393.9,402.90000000000003 q-4,1.4 -2.6,2.6 q1.9,0.7 1.6,2.3" stroke="#111" stroke-width="1.05" fill="none"/>
<path d="M404.1,402.6H411.1" stroke="#111" stroke-width="1.7" fill="none"/><path d="M409.2,402.90000000000003 q-4,1.4 -2.6,2.6 q1.9,0.7 1.6,2.3" stroke="#111" stroke-width="1.05" fill="none"/>
<path d="M418.5,402.6H425.5" stroke="#111" stroke-width="1.7" fill="none"/><path d="M423.6,402.90000000000003 q-4,1.4 -2.6,2.6 q1.9,0.7 1.6,2.3" stroke="#111" stroke-width="1.05" fill="none"/>
<path d="M434.5,402.6H441.5" stroke="#111" stroke-width="1.7" fill="none"/><path d="M439.6,402.90000000000003 q-4,1.4 -2.6,2.6 q1.9,0.7 1.6,2.3" stroke="#111" stroke-width="1.05" fill="none"/>
<path d="M449.9,402.6H456.9" stroke="#111" stroke-width="1.7" fill="none"/><path d="M455.0,402.90000000000003 q-4,1.4 -2.6,2.6 q1.9,0.7 1.6,2.3" stroke="#111" stroke-width="1.05" fill="none"/>
<path d="M463.9,402.6H470.9" stroke="#111" stroke-width="1.7" fill="none"/><path d="M469.0,402.90000000000003 q-4,1.4 -2.6,2.6 q1.9,0.7 1.6,2.3" stroke="#111" stroke-width="1.05" fill="none"/>
<path d="M479.0,402.6H486.0" stroke="#111" stroke-width="1.7" fill="none"/><path d="M484.1,402.90000000000003 q-4,1.4 -2.6,2.6 q1.9,0.7 1.6,2.3" stroke="#111" stroke-width="1.05" fill="none"/>
<path d="M492.5,402.6H499.5" stroke="#111" stroke-width="1.7" fill="none"/><path d="M497.6,402.90000000000003 q-4,1.4 -2.6,2.6 q1.9,0.7 1.6,2.3" stroke="#111" stroke-width="1.05" fill="none"/>
<path d="M365,345V399.6 M363.2,399.6h3.6 M393,343V402.4 M425.4,342V464.2 M423.6,464.2h3.6 M467.4,350V429 M465.6,429h3.6" stroke="#111" stroke-width="1.15" fill="none"/>
<path d="M361.1,341.0 H368.9 L365.0,347.3Z" fill="#111"/>
<path d="M389.1,338.8 H396.9 L393.0,345.1Z" fill="#111"/>
<path d="M421.5,337.6 H429.3 L425.4,343.9Z" fill="#111"/>
<path d="M463.5,345.3 H471.3 L467.4,351.6Z" fill="#111"/>
<circle cx="425.4" cy="361.7" r="2.4" fill="#e8e8e8" stroke="#222" stroke-width="0.9"/><circle cx="425.4" cy="361.7" r="1" fill="#222"/>
<circle cx="425.4" cy="369.4" r="2.4" fill="#e8e8e8" stroke="#222" stroke-width="0.9"/><circle cx="425.4" cy="369.4" r="1" fill="#222"/>
<circle cx="425.4" cy="397.3" r="2.4" fill="#e8e8e8" stroke="#222" stroke-width="0.9"/><circle cx="425.4" cy="397.3" r="1" fill="#222"/>
<circle cx="425.4" cy="428.8" r="2.4" fill="#e8e8e8" stroke="#222" stroke-width="0.9"/><circle cx="425.4" cy="428.8" r="1" fill="#222"/>
<path d="M436.4,319.3 L426.6,336.2" stroke="#333" stroke-width="0.7"/>
<text x="441" y="313.3" font-size="10" text-anchor="middle">Core 97-9</text>
<text x="522.3" y="355.8" font-size="7.9" text-anchor="middle" fill="#333">2240±70</text>
<text x="522.3" y="363.6" font-size="7.9" text-anchor="middle" fill="#333">Ki-6158</text>
<text x="522.3" y="374.6" font-size="7.9" text-anchor="middle" fill="#333">2700±80</text>
<text x="522.3" y="381.6" font-size="7.9" text-anchor="middle" fill="#333">Ki-6163</text>
<text x="522.3" y="397.8" font-size="7.9" text-anchor="middle" fill="#333">7120±65</text>
<text x="522.3" y="405.2" font-size="7.9" text-anchor="middle" fill="#333">Ki-7318</text>
<text x="500.8" y="428" font-size="7.9" text-anchor="start" fill="#333">10380±110</text>
<text x="502.3" y="436" font-size="7.9" text-anchor="start" fill="#333">Ki-6155</text>
<path d="M346.6,282 V481.5 H500.7" stroke="#222" stroke-width="1.2" fill="none"/>
<path d="M341.8,316H346.6" stroke="#222" stroke-width="0.9"/>
<text x="340.6" y="319.5" font-size="9.8" text-anchor="end">145</text>
<path d="M341.8,387.2H346.6" stroke="#222" stroke-width="0.9"/>
<text x="340.6" y="390.7" font-size="9.8" text-anchor="end">140</text>
<path d="M341.8,458.4H346.6" stroke="#222" stroke-width="0.9"/>
<text x="340.6" y="461.9" font-size="9.8" text-anchor="end">135</text>
<path d="M346.8,481.5v3.4" stroke="#222" stroke-width="0.9"/>
<text x="346.8" y="496.5" font-size="9.8" text-anchor="middle">0</text>
<path d="M423.6,481.5v3.4" stroke="#222" stroke-width="0.9"/>
<text x="423.6" y="496.5" font-size="9.8" text-anchor="middle">50</text>
<path d="M500.2,481.5v3.4" stroke="#222" stroke-width="0.9"/>
<text x="500.2" y="496.5" font-size="9.8" text-anchor="middle">100</text>
<text x="429.5" y="509" font-size="10" text-anchor="middle">Distance (m)</text>
<text transform="translate(320.5,391) rotate(-90)" font-size="10.5" text-anchor="middle">Elevation (m a.s.l.)</text>
<rect x="265.4" y="521.7" width="26.4" height="15.6" fill="url(#stipf)" stroke="#222" stroke-width="0.8"/>
<rect x="306.3" y="521.7" width="28.4" height="15.6" fill="#fff" stroke="#222" stroke-width="0.8"/>
<path d="M308,525.3H333" stroke="#606060" stroke-width="0.9" stroke-dasharray="5 2 0.9 2"/>
<path d="M312,529.5H333" stroke="#606060" stroke-width="0.9" stroke-dasharray="5 2 0.9 2"/>
<path d="M308,533.7H333" stroke="#606060" stroke-width="0.9" stroke-dasharray="5 2 0.9 2"/>
<rect x="347.7" y="521.7" width="28" height="15.6" fill="#fff" stroke="#222" stroke-width="0.8"/>
<path d="M351,525.5h8 m3,0h9 M349,529.5h5 m3,0h9 m3,0h5 M352,533.5h9 m3,0h8" stroke="#444" stroke-width="0.9"/>
<rect x="388.6" y="521.7" width="28.4" height="15.6" fill="#fff" stroke="#222" stroke-width="0.8"/>
<path d="M388.6,524.6h28.4 M388.6,527.5h28.4 M388.6,530.4h28.4 M388.6,533.3h28.4" stroke="#444" stroke-width="0.8"/>
<rect x="430.6" y="521.7" width="27.2" height="15.6" fill="#fff" stroke="#222" stroke-width="0.8"/>
<path d="M432.3,528.4H439.3" stroke="#111" stroke-width="1.7" fill="none"/><path d="M437.4,528.6999999999999 q-4,1.4 -2.6,2.6 q1.9,0.7 1.6,2.3" stroke="#111" stroke-width="1.05" fill="none"/>
<path d="M440.5,528.4H447.5" stroke="#111" stroke-width="1.7" fill="none"/><path d="M445.6,528.6999999999999 q-4,1.4 -2.6,2.6 q1.9,0.7 1.6,2.3" stroke="#111" stroke-width="1.05" fill="none"/>
<path d="M448.8,528.4H455.8" stroke="#111" stroke-width="1.7" fill="none"/><path d="M453.9,528.6999999999999 q-4,1.4 -2.6,2.6 q1.9,0.7 1.6,2.3" stroke="#111" stroke-width="1.05" fill="none"/>
<rect x="472" y="521.7" width="27" height="15.6" fill="#fff" stroke="#222" stroke-width="0.8"/>
<ellipse cx="481.3" cy="526" rx="2.4" ry="2" fill="#fff" stroke="#111" stroke-width="1"/><path d="M481.6,524 a2.2,2 0 0 1 0,4Z" fill="#111"/>
<ellipse cx="492" cy="526" rx="2.4" ry="2" fill="#fff" stroke="#111" stroke-width="1"/><path d="M492.3,524 a2.2,2 0 0 1 0,4Z" fill="#111"/>
<ellipse cx="483" cy="533.7" rx="2.4" ry="2" fill="#fff" stroke="#111" stroke-width="1"/><path d="M483.3,531.7 a2.2,2 0 0 1 0,4Z" fill="#111"/>
<ellipse cx="492" cy="533.7" rx="2.4" ry="2" fill="#fff" stroke="#111" stroke-width="1"/><path d="M492.3,531.7 a2.2,2 0 0 1 0,4Z" fill="#111"/>
<path d="M474,526.3h3 M474,533h3" stroke="#888" stroke-width="0.6"/>
<rect x="513" y="521.7" width="27" height="15.6" fill="#fff" stroke="#222" stroke-width="0.8"/>
<circle cx="526.6" cy="529.2" r="2.4" fill="#e8e8e8" stroke="#222" stroke-width="0.9"/><circle cx="526.6" cy="529.2" r="1" fill="#222"/>
<text x="293.8" y="533.5" font-size="8.6" class="i">1</text>
<text x="336.5" y="533.5" font-size="8.6" class="i">2</text>
<text x="377.6" y="533.5" font-size="8.6" class="i">3</text>
<text x="418.8" y="533.5" font-size="8.6" class="i">4</text>
<text x="459.6" y="533.5" font-size="8.6" class="i">5</text>
<text x="501" y="533.5" font-size="8.6" class="i">6</text>
<text x="542.2" y="533.5" font-size="8.6" class="i">7</text>
</g>
</svg></body></html>
